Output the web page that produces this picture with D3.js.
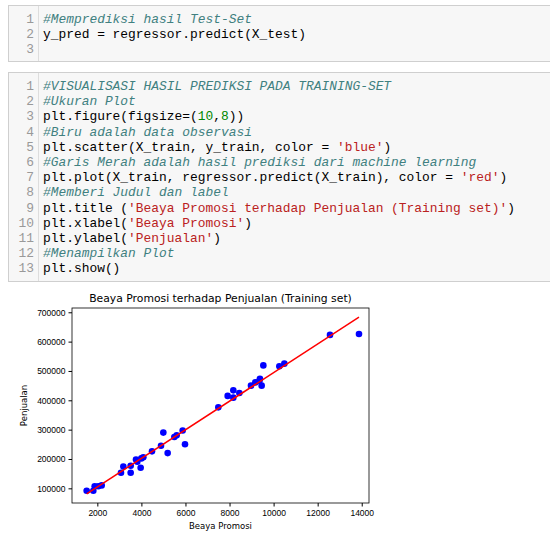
<!DOCTYPE html>
<html><head><meta charset="utf-8">
<script src="https://cdn.jsdelivr.net/npm/d3@7"></script>
<style>body{margin:0;background:#fff}</style>
</head><body>
<svg id="page" width="550" height="540"></svg>
<script>
// code cells: [type, text] pieces per line
const cell1 = [
  [["c", "#Memprediksi hasil Test-Set"]],
  [["t", "y_pred = regressor.predict(X_test)"]],
  []
];
const cell2 = [
  [["c", "#VISUALISASI HASIL PREDIKSI PADA TRAINING-SET"]],
  [["c", "#Ukuran Plot"]],
  [["t", "plt.figure(figsize=("], ["n", "10"], ["t", ","], ["n", "8"], ["t", "))"]],
  [["c", "#Biru adalah data observasi"]],
  [["t", "plt.scatter(X_train, y_train, color = "], ["s", "'blue'"], ["t", ")"]],
  [["c", "#Garis Merah adalah hasil prediksi dari machine learning"]],
  [["t", "plt.plot(X_train, regressor.predict(X_train), color = "], ["s", "'red'"], ["t", ")"]],
  [["c", "#Memberi Judul dan label"]],
  [["t", "plt.title ("], ["s", "'Beaya Promosi terhadap Penjualan (Training set)'"], ["t", ")"]],
  [["t", "plt.xlabel("], ["s", "'Beaya Promosi'"], ["t", ")"]],
  [["t", "plt.ylabel("], ["s", "'Penjualan'"], ["t", ")"]],
  [["c", "#Menampilkan Plot"]],
  [["t", "plt.show()"]]
];

// training data
const promosi = [1516, 1818, 1879, 2045, 2197, 3074, 3180, 3513, 3513, 3755, 3815, 3966, 3997, 4088,
  4481, 4890, 4995, 5192, 5495, 5601, 5873, 5979, 7491, 7915, 8172, 8172, 8445, 8974, 9170, 9352,
  9380, 9458, 9534, 10260, 10487, 12560, 13876];
const penjualan = [92000, 92000, 107000, 107000, 110000, 153000, 174000, 153000, 177000, 198000, 191000,
  170000, 202000, 206000, 226000, 245000, 290000, 220000, 275000, 281000, 297000, 250000, 376000,
  415000, 434000, 409000, 425000, 450000, 461000, 466000, 473000, 450000, 519000, 516000, 525000,
  623000, 626000];
const xTicks = [2000, 4000, 6000, 8000, 10000, 12000, 14000];
const yTicks = [100000, 200000, 300000, 400000, 500000, 600000, 700000];

const svg = d3.select("#page");
const colors = {c: "#408080", t: "#000", s: "#BA2121", n: "#008800"};

function drawCell(lines, top, h) {
    svg.append("rect").attr("x", 8.5).attr("y", top + 0.5).attr("width", 545).attr("height", h)
        .attr("fill", "#f7f7f7").attr("stroke", "#cfcfcf");
    svg.append("line").attr("x1", 38.5).attr("x2", 38.5).attr("y1", top + 1).attr("y2", top + h)
        .attr("stroke", "#ddd");
    lines.forEach((parts, i) => {
        const y = top + 18 + i * 15.2;
        svg.append("text").attr("x", 34).attr("y", y).attr("text-anchor", "end")
            .attr("font-family", "Liberation Mono, monospace").attr("font-size", 12.9)
            .attr("fill", "#999").text(i + 1);
        const t = svg.append("text").attr("x", 43).attr("y", y)
            .attr("font-family", "Liberation Mono, monospace").attr("font-size", 12.9)
            .attr("xml:space", "preserve").style("white-space", "pre");
        parts.forEach(([k, s]) => {
            t.append("tspan").attr("fill", colors[k])
                .attr("font-style", k === "c" ? "italic" : "normal").text(s);
        });
    });
}
drawCell(cell1, 5, 56);
drawCell(cell2, 72, 209);

// chart
const x = d3.scaleLinear().domain([850, 14330]).range([72, 369]);
const y = d3.scaleLinear().domain([50000, 714600]).range([503, 308]);
const g = svg.append("g").attr("font-family", "DejaVu Sans, sans-serif");

g.append("g").attr("transform", "translate(0,503)")
    .call(d3.axisBottom(x).tickValues(xTicks).tickSize(3.5).tickPadding(3).tickFormat(d3.format("d")))
    .call(a => a.select(".domain").remove())
    .selectAll("text").attr("font-size", 8.5).attr("fill", "#000");
g.append("g").attr("transform", "translate(72,0)")
    .call(d3.axisLeft(y).tickValues(yTicks).tickSize(3.5).tickPadding(3).tickFormat(d3.format("d")))
    .call(a => a.select(".domain").remove())
    .selectAll("text").attr("font-size", 8.5).attr("fill", "#000");

g.selectAll("circle.pt").data(promosi).enter().append("circle").attr("class", "pt")
    .attr("cx", d => x(d)).attr("cy", (d, i) => y(penjualan[i])).attr("r", 3.3).attr("fill", "#0000ff");

// least squares fit = regressor.predict(X_train)
const mx = d3.mean(promosi), my = d3.mean(penjualan);
const b = d3.sum(promosi, (d, i) => (d - mx) * (penjualan[i] - my)) / d3.sum(promosi, d => (d - mx) ** 2);
const a0 = my - b * mx;
const ext = d3.extent(promosi);
g.append("path").datum(ext)
    .attr("d", d3.line().x(d => x(d)).y(d => y(a0 + b * d)))
    .attr("stroke", "#ff0000").attr("stroke-width", 1.5).attr("fill", "none");

g.append("rect").attr("x", 72).attr("y", 308).attr("width", 297).attr("height", 195)
    .attr("fill", "none").attr("stroke", "#000").attr("stroke-width", 0.8);

g.append("text").attr("x", 220.5).attr("y", 302).attr("text-anchor", "middle").attr("font-size", 10.8)
    .text("Beaya Promosi terhadap Penjualan (Training set)");
g.append("text").attr("x", 220.5).attr("y", 529).attr("text-anchor", "middle").attr("font-size", 8.5)
    .text("Beaya Promosi");
g.append("text").attr("transform", "translate(27,405.5) rotate(-90)").attr("text-anchor", "middle")
    .attr("font-size", 8.5).text("Penjualan");
</script>
</body></html>
